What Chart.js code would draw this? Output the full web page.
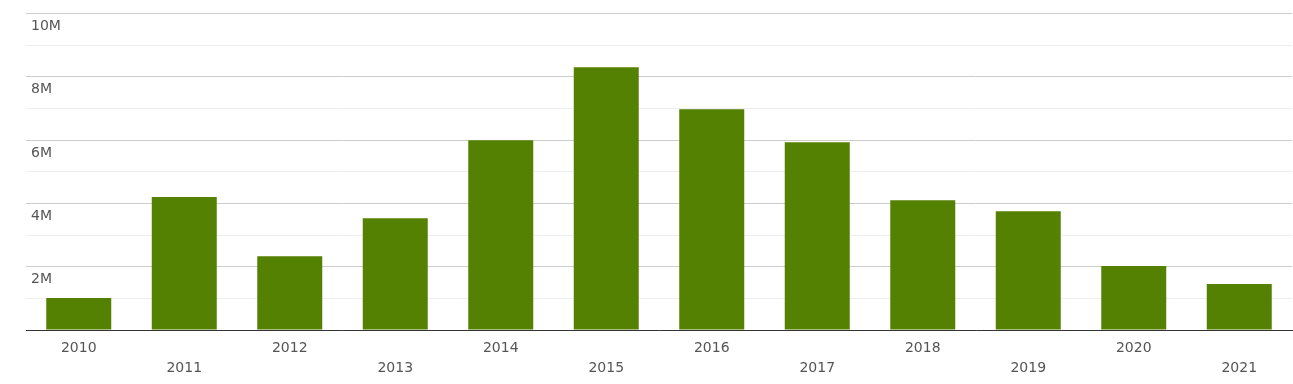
<!DOCTYPE html>
<html>
<head>
<meta charset="utf-8">
<script src="https://cdn.jsdelivr.net/npm/chart.js@4/dist/chart.umd.min.js"></script>
<style>
  html, body { margin: 0; padding: 0; background: #fff; }
  #wrap { width: 1293px; height: 384px; }
</style>
</head>
<body>
<div id="wrap"><canvas id="chart" width="1293" height="384"></canvas></div>
<script>
// data
const years = ['2010','2011','2012','2013','2014','2015','2016','2017','2018','2019','2020','2021'];
const values = [1.01e6, 4.2e6, 2.33e6, 3.53e6, 5.99e6, 8.3e6, 6.97e6, 5.93e6, 4.1e6, 3.75e6, 2.02e6, 1.45e6];
const yMax = 10e6;
const yStep = 1e6;

// odd years go on a second row so the labels don't crowd
let xLabels = years.map((y, i) => i % 2 ? ['', y] : y);

Chart.defaults.font.family = '"DejaVu Sans", sans-serif';
Chart.defaults.color = '#555';

const ctx = document.getElementById('chart').getContext('2d');
let chart = new Chart(ctx, {
    type: 'bar',
    data: {
        labels: xLabels,
        datasets: [{
            data: values,
            backgroundColor: '#548102',
            categoryPercentage: 1,
            barPercentage: 0.616
        }]
    },
    options: {
        responsive: false,
        animation: false,
        layout: { padding: { left: 16, right: 1, top: 12, bottom: -2 } },
        plugins: { legend: { display: false }, tooltip: { enabled: false } },
        scales: {
            x: {
                grid: { display: false, drawTicks: false },
                border: { display: true, color: '#333', width: 1 },
                ticks: {
                    autoSkip: false,
                    maxRotation: 0,
                    padding: 8,
                    font: { size: 14, lineHeight: '20px' }
                }
            },
            y: {
                min: 0,
                max: yMax,
                border: { display: false },
                grid: {
                    drawTicks: false,
                    color: c => (c.tick && Math.round(c.tick.value / yStep) % 2 === 0) ? '#ccc' : '#eee'
                },
                ticks: {
                    stepSize: yStep,
                    mirror: true,
                    padding: 5,
                    labelOffset: 13,
                    font: { size: 14 },
                    callback: v => {
                        let m = Math.round(v / 1e6);
                        if (m === 0 || m % 2) return '';
                        return m + 'M';
                    }
                }
            }
        }
    }
});
</script>
</body>
</html>
